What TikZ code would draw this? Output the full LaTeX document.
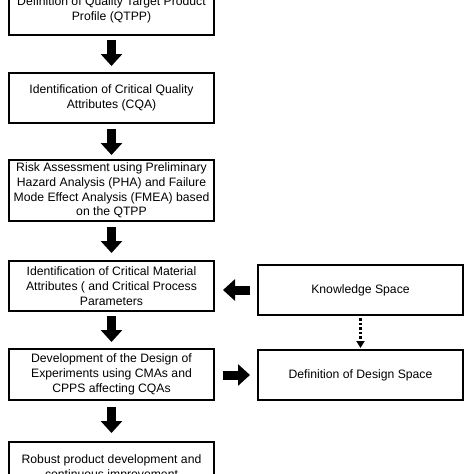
\documentclass[tikz,border=0pt]{standalone}
\usepackage{fontspec}
\setmainfont{Liberation Sans}
\usetikzlibrary{arrows.meta}
\tikzset{
  box/.style={draw=black, line width=2pt, fill=white, align=center,
    minimum width=205pt, inner sep=2pt,
    font=\fontsize{12.2}{14.7}\selectfont},
  bigarrow/.style={line width=9pt, -{Triangle[length=12pt,width=21pt]}},
  dotarrow/.style={line width=2.6pt, dash pattern=on 2.5pt off 2pt,
    -{Triangle[length=7pt,width=8pt]}}
}
\begin{document}
\begin{tikzpicture}[x=1pt,y=-1pt]
\useasboundingbox (0,0) rectangle (474,474);
\clip (0,0) rectangle (474,474);
\fill[white] (0,0) rectangle (474,474);
\node[box, minimum height=50pt] (b1) at (111.5,9.5) {Definition of Quality Target Product\\Profile (QTPP)};
\node[box, minimum height=50pt] (b2) at (111.5,98) {Identification of Critical Quality\\Attributes (CQA)};
\node[box, minimum height=61pt] (b3) at (111.5,190.5) {Risk Assessment using Preliminary\\Hazard Analysis (PHA) and Failure\\Mode Effect Analysis (FMEA) based\\on the QTPP};
\node[box, minimum height=50pt] (b4) at (111.5,286) {Identification of Critical Material\\Attributes ( and Critical Process\\Parameters};
\node[box, minimum height=51pt] (b5) at (111.5,374.5) {Development of the Design of\\Experiments using CMAs and\\CPPS affecting CQAs};
\node[box, minimum height=51pt] (b6) at (111.5,467.5) {Robust product development and\\continuous improvement};
\node[box, minimum height=50pt] (ks) at (360.5,290) {Knowledge Space};
\node[box, minimum height=50pt] (ds) at (360.5,375) {Definition of Design Space};
\draw[bigarrow] ([yshift=-4pt]b1.south) -- ([yshift=6pt]b2.north);
\draw[bigarrow] ([yshift=-5pt]b2.south) -- ([yshift=4pt]b3.north);
\draw[bigarrow] ([yshift=-5pt]b3.south) -- ([yshift=7pt]b4.north);
\draw[bigarrow] ([yshift=-4pt]b4.south) -- ([yshift=6pt]b5.north);
\draw[bigarrow] ([yshift=-6pt]b5.south) -- ([yshift=8pt]b6.north);
\draw[bigarrow] ([xshift=-7pt]ks.west) -- ([xshift=8pt]ks.west -| b4.east);
\draw[bigarrow] ([xshift=8pt]ds.west -| b5.east) -- ([xshift=-7pt]ds.west);
\draw[dotarrow] ([yshift=-2pt]ks.south) -- ([yshift=1pt]ds.north);
\end{tikzpicture}
\end{document}
